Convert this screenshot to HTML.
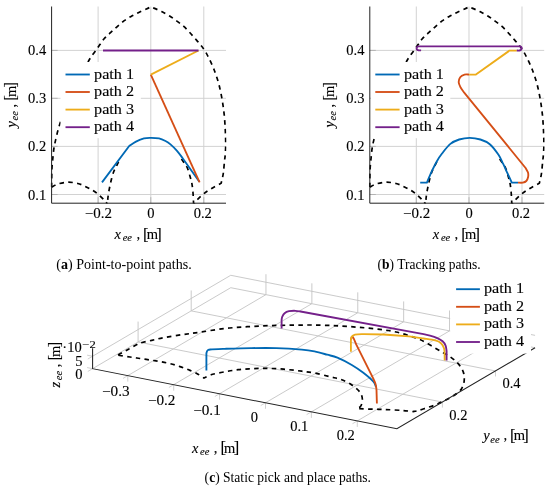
<!DOCTYPE html>
<html><head><meta charset="utf-8"><title>Workspace paths</title>
<style>
html,body{margin:0;padding:0;background:#fff;}
svg{display:block;}
text{font-family:'Liberation Serif', 'DejaVu Serif', serif;fill:#000;stroke:#000;stroke-width:0.12px;}
</style></head>
<body>
<svg width="550" height="489" viewBox="0 0 550 489">
<rect width="550" height="489" fill="#fff"/>
<path d="M98.1,6.5V203.2M150.8,6.5V203.2M203.8,6.5V203.2M51.6,194.5H226M51.6,146.4H226M51.6,98.3H226M51.6,50.4H226" stroke="#d0d0d0" stroke-width="0.95" fill="none"/>
<path d="M98.1,203.2v-6M150.8,203.2v-6M203.8,203.2v-6M51.6,194.5h6M51.6,146.4h6M51.6,98.3h6M51.6,50.4h6" stroke="#aaa" stroke-width="0.8" fill="none"/>
<clipPath id="clip0"><rect x="50.6" y="5.5" width="175.9" height="198"/></clipPath>
<g clip-path="url(#clip0)" stroke="#000" stroke-width="1.7" stroke-dasharray="4.5 4.3" fill="none">
<path d="M51.6,187.1 C51.6,186.57 51.55,186.9 51.6,183.9 C51.65,180.9 51.68,173.48 51.9,169.1 C52.12,164.72 52.55,161.15 52.9,157.6 C53.25,154.05 53.53,150.8 54,147.8 C54.47,144.8 55.02,142.6 55.7,139.6 C56.38,136.6 57.28,132.8 58.1,129.8 C58.92,126.8 60.18,122.97 60.6,121.6 C61.25,120.42 63.02,117.6 64.5,114.5 C65.98,111.4 67.8,106.92 69.5,103 C71.2,99.08 72.95,95.17 74.7,91 C76.45,86.83 78.37,81.67 80,78 C81.63,74.33 83.25,71.47 84.5,69 C85.75,66.53 86.55,65 87.5,63.2 C88.45,61.4 88.53,60.72 90.2,58.2 C91.87,55.68 95.22,51.3 97.5,48.1 C99.78,44.9 101.73,41.57 103.9,39 C106.07,36.43 108.32,34.73 110.5,32.7 C112.68,30.67 114.77,28.77 117,26.8 C119.23,24.83 121.55,22.63 123.9,20.9 C126.25,19.17 128.7,17.77 131.1,16.4 C133.5,15.03 135.75,13.95 138.3,12.7 C140.85,11.45 144.32,9.85 146.4,8.9 C148.48,7.95 150.07,7.32 150.8,7 C151.27,7.17 151.8,7.23 153.6,8 C155.4,8.77 158.93,10.27 161.6,11.6 C164.27,12.93 167.05,14.42 169.6,16 C172.15,17.58 174.58,19.4 176.9,21.1 C179.22,22.8 181.43,24.38 183.5,26.2 C185.57,28.02 187.37,29.95 189.3,32 C191.23,34.05 193.28,36.43 195.1,38.5 C196.92,40.57 198.63,42.45 200.2,44.4 C201.77,46.35 203.05,47.9 204.5,50.2 C205.95,52.5 207.3,54.95 208.9,58.2 C210.5,61.45 212.48,65.53 214.1,69.7 C215.72,73.87 217.28,78.33 218.6,83.2 C219.92,88.07 221.07,93.65 222,98.9 C222.93,104.15 223.65,109.45 224.2,114.7 C224.75,119.95 225.05,125.52 225.3,130.4 C225.55,135.28 225.7,140.07 225.7,144 C225.7,147.93 225.5,151.13 225.3,154 C225.1,156.87 224.82,158.12 224.5,161.2 C224.18,164.28 223.78,169.5 223.4,172.5 C223.02,175.5 222.58,177.42 222.2,179.2 C221.82,180.98 221.28,182.53 221.1,183.2 C219.6,184.03 214.92,186.52 212.1,188.2 C209.28,189.88 206.63,191.42 204.2,193.3 C201.77,195.18 199,198 197.5,199.5 C196,201 195.75,201.55 195.2,202.3 C194.65,203.05 194.37,203.72 194.2,204"/>
<path d="M51.6,187.1 C52.68,186.57 55.37,184.72 58.1,183.9 C60.83,183.08 64.72,182.27 68,182.2 C71.28,182.13 74.97,182.82 77.8,183.5 C80.63,184.18 82.47,185.13 85,186.3 C87.53,187.47 90.67,189.05 93,190.5 C95.33,191.95 97,193.25 99,195 C101,196.75 103.62,199.5 105,201 C106.38,202.5 106.92,203.5 107.3,204"/>
<path d="M118.6,162 C118.33,162.5 117.77,163.5 117,165 C116.23,166.5 114.92,168.67 114,171 C113.08,173.33 112.25,176.17 111.5,179 C110.75,181.83 110.08,185 109.5,188 C108.92,191 108.32,194.33 108,197 C107.68,199.67 107.67,202.83 107.6,204"/>
<path d="M181.5,159 C182,159.75 183.52,162 184.5,163.5 C185.48,165 186.45,165.75 187.4,168 C188.35,170.25 189.45,174.38 190.2,177 C190.95,179.62 191.43,181.08 191.9,183.7 C192.37,186.32 192.72,189.32 193,192.7 C193.28,196.08 193.5,202.12 193.6,204"/>
</g>
<path d="M102,182.4 L129,146.2 C130.17,145.43 133.5,142.9 136,141.6 C138.5,140.3 141.5,139.02 144,138.4 C146.5,137.78 148.5,137.9 151,137.9 C153.5,137.9 156.58,137.88 159,138.4 C161.42,138.92 163.58,140 165.5,141 C167.42,142 168.58,142.75 170.5,144.4 C172.42,146.05 174.92,148.52 177,150.9 C179.08,153.28 182,157.4 183,158.7 L199.2,181.5" stroke="#0069B5" stroke-width="1.85" fill="none" stroke-linejoin="round" stroke-linecap="butt"/>
<path d="M150.8,74.6 L199.6,182.3" stroke="#D54E16" stroke-width="1.85" fill="none" stroke-linejoin="round" stroke-linecap="butt"/>
<path d="M150.8,74.6 L198.5,50.5" stroke="#EDAC1A" stroke-width="1.85" fill="none" stroke-linejoin="round" stroke-linecap="butt"/>
<path d="M103,50.5 L198.5,50.5" stroke="#74208A" stroke-width="1.85" fill="none" stroke-linejoin="round" stroke-linecap="butt"/>
<rect x="60.5" y="62" width="80.3" height="76.2" fill="#fff"/>
<path d="M65.5,74.5h24.3" stroke="#0069B5" stroke-width="1.85"/>
<text x="94.1" y="78.5" font-size="14" text-anchor="start" textLength="40" lengthAdjust="spacingAndGlyphs">path 1</text>
<path d="M65.5,92h24.3" stroke="#D54E16" stroke-width="1.85"/>
<text x="94.1" y="96" font-size="14" text-anchor="start" textLength="40" lengthAdjust="spacingAndGlyphs">path 2</text>
<path d="M65.5,109.6h24.3" stroke="#EDAC1A" stroke-width="1.85"/>
<text x="94.1" y="113.6" font-size="14" text-anchor="start" textLength="40" lengthAdjust="spacingAndGlyphs">path 3</text>
<path d="M65.5,127.2h24.3" stroke="#74208A" stroke-width="1.85"/>
<text x="94.1" y="131.2" font-size="14" text-anchor="start" textLength="40" lengthAdjust="spacingAndGlyphs">path 4</text>
<path d="M51.6,6.5V203.2H226" stroke="#222" stroke-width="1.0" fill="none"/>
<text x="46.2" y="199.5" font-size="14.5" text-anchor="end">0.1</text>
<text x="46.2" y="151.4" font-size="14.5" text-anchor="end">0.2</text>
<text x="46.2" y="103.3" font-size="14.5" text-anchor="end">0.3</text>
<text x="46.2" y="55.4" font-size="14.5" text-anchor="end">0.4</text>
<text x="98.4" y="217.6" font-size="14.5" text-anchor="middle" textLength="27.2" lengthAdjust="spacingAndGlyphs">−0.2</text>
<text x="150.8" y="217.6" font-size="14.5" text-anchor="middle">0</text>
<text x="202.8" y="217.6" font-size="14.5" text-anchor="middle">0.2</text>
<g transform="translate(114.6,239.2)"><text x="0" y="0" font-size="14.5"><tspan font-style="italic">x</tspan><tspan x="8.1" dy="2.2" font-size="10.5" font-style="italic">ee </tspan><tspan x="21.8" dy="-2.2">, </tspan><tspan x="28.4" dy="0.5" font-size="16.5">[</tspan><tspan x="32.1" dy="-0.5">m</tspan><tspan x="41.7" dy="0.5" font-size="16.5">]</tspan></text></g>
<g transform="translate(15.9,127.6) rotate(-90)"><text x="0" y="0" font-size="14.5"><tspan font-style="italic">y</tspan><tspan x="7.14" dy="2.2" font-size="10.5" font-style="italic">ee </tspan><tspan x="20.2" dy="-2.2">, </tspan><tspan x="26.8" dy="0.5" font-size="16.5">[</tspan><tspan x="30.5" dy="-0.5">m</tspan><tspan x="40.1" dy="0.5" font-size="16.5">]</tspan></text></g>
<path d="M416.3,6.5V203.2M469,6.5V203.2M522,6.5V203.2M369.8,194.5H544.2M369.8,146.4H544.2M369.8,98.3H544.2M369.8,50.4H544.2" stroke="#d0d0d0" stroke-width="0.95" fill="none"/>
<path d="M416.3,203.2v-6M469,203.2v-6M522,203.2v-6M369.8,194.5h6M369.8,146.4h6M369.8,98.3h6M369.8,50.4h6" stroke="#aaa" stroke-width="0.8" fill="none"/>
<clipPath id="clip318"><rect x="368.8" y="5.5" width="175.9" height="198"/></clipPath>
<g clip-path="url(#clip318)" stroke="#000" stroke-width="1.7" stroke-dasharray="4.5 4.3" fill="none">
<path d="M369.8,187.1 C369.8,186.57 369.75,186.9 369.8,183.9 C369.85,180.9 369.88,173.48 370.1,169.1 C370.32,164.72 370.75,161.15 371.1,157.6 C371.45,154.05 371.73,150.8 372.2,147.8 C372.67,144.8 373.22,142.6 373.9,139.6 C374.58,136.6 375.48,132.8 376.3,129.8 C377.12,126.8 378.38,122.97 378.8,121.6 C379.45,120.42 381.22,117.6 382.7,114.5 C384.18,111.4 386,106.92 387.7,103 C389.4,99.08 391.15,95.17 392.9,91 C394.65,86.83 396.57,81.67 398.2,78 C399.83,74.33 401.45,71.47 402.7,69 C403.95,66.53 404.75,65 405.7,63.2 C406.65,61.4 406.73,60.72 408.4,58.2 C410.07,55.68 413.42,51.3 415.7,48.1 C417.98,44.9 419.93,41.57 422.1,39 C424.27,36.43 426.52,34.73 428.7,32.7 C430.88,30.67 432.97,28.77 435.2,26.8 C437.43,24.83 439.75,22.63 442.1,20.9 C444.45,19.17 446.9,17.77 449.3,16.4 C451.7,15.03 453.95,13.95 456.5,12.7 C459.05,11.45 462.52,9.85 464.6,8.9 C466.68,7.95 468.27,7.32 469,7 C469.47,7.17 470,7.23 471.8,8 C473.6,8.77 477.13,10.27 479.8,11.6 C482.47,12.93 485.25,14.42 487.8,16 C490.35,17.58 492.78,19.4 495.1,21.1 C497.42,22.8 499.63,24.38 501.7,26.2 C503.77,28.02 505.57,29.95 507.5,32 C509.43,34.05 511.48,36.43 513.3,38.5 C515.12,40.57 516.83,42.45 518.4,44.4 C519.97,46.35 521.25,47.9 522.7,50.2 C524.15,52.5 525.5,54.95 527.1,58.2 C528.7,61.45 530.68,65.53 532.3,69.7 C533.92,73.87 535.48,78.33 536.8,83.2 C538.12,88.07 539.27,93.65 540.2,98.9 C541.13,104.15 541.85,109.45 542.4,114.7 C542.95,119.95 543.25,125.52 543.5,130.4 C543.75,135.28 543.9,140.07 543.9,144 C543.9,147.93 543.7,151.13 543.5,154 C543.3,156.87 543.02,158.12 542.7,161.2 C542.38,164.28 541.98,169.5 541.6,172.5 C541.22,175.5 540.78,177.42 540.4,179.2 C540.02,180.98 539.48,182.53 539.3,183.2 C537.8,184.03 533.12,186.52 530.3,188.2 C527.48,189.88 524.83,191.42 522.4,193.3 C519.97,195.18 517.2,198 515.7,199.5 C514.2,201 513.95,201.55 513.4,202.3 C512.85,203.05 512.57,203.72 512.4,204"/>
<path d="M369.8,187.1 C370.88,186.57 373.57,184.72 376.3,183.9 C379.03,183.08 382.92,182.27 386.2,182.2 C389.48,182.13 393.17,182.82 396,183.5 C398.83,184.18 400.67,185.13 403.2,186.3 C405.73,187.47 408.87,189.05 411.2,190.5 C413.53,191.95 415.2,193.25 417.2,195 C419.2,196.75 421.82,199.5 423.2,201 C424.58,202.5 425.12,203.5 425.5,204"/>
<path d="M436.8,162 C436.53,162.5 435.97,163.5 435.2,165 C434.43,166.5 433.12,168.67 432.2,171 C431.28,173.33 430.45,176.17 429.7,179 C428.95,181.83 428.28,185 427.7,188 C427.12,191 426.52,194.33 426.2,197 C425.88,199.67 425.87,202.83 425.8,204"/>
<path d="M499.7,159 C500.2,159.75 501.72,162 502.7,163.5 C503.68,165 504.65,165.75 505.6,168 C506.55,170.25 507.65,174.38 508.4,177 C509.15,179.62 509.63,181.08 510.1,183.7 C510.57,186.32 510.92,189.32 511.2,192.7 C511.48,196.08 511.7,202.12 511.8,204"/>
</g>
<path d="M420.2,182.6 L426.9,182.6 C427.67,180.82 429.83,175.47 431.5,171.9 C433.17,168.33 435.12,164.3 436.9,161.2 C438.68,158.1 439.95,156.18 442.2,153.3 C444.45,150.42 447.58,146.2 450.4,143.9 C453.22,141.6 455.88,140.52 459.1,139.5 C462.32,138.48 466.15,137.8 469.7,137.8 C473.25,137.8 477.05,138.43 480.4,139.5 C483.75,140.57 486.78,141.65 489.8,144.2 C492.82,146.75 496.27,151.52 498.5,154.8 C500.73,158.08 501.73,160.88 503.2,163.9 C504.67,166.92 505.87,169.78 507.3,172.9 C508.73,176.02 511.05,180.98 511.8,182.6 L518,182.6" stroke="#0069B5" stroke-width="1.85" fill="none" stroke-linejoin="round" stroke-linecap="butt"/>
<path d="M518,182.6 C518.8,182.6 521.42,182.87 522.8,182.6 C524.18,182.33 525.42,181.93 526.3,181 C527.18,180.07 527.82,178.4 528.1,177 C528.38,175.6 528.42,174.1 528,172.6 C527.58,171.1 526,168.77 525.6,168 L463.6,91.8 C463.08,91.05 461.32,88.88 460.5,87.3 C459.68,85.72 458.75,83.98 458.7,82.3 C458.65,80.62 459.23,78.48 460.2,77.2 C461.17,75.92 463.02,75.03 464.5,74.6 C465.98,74.17 468.33,74.6 469.1,74.6" stroke="#D54E16" stroke-width="1.85" fill="none" stroke-linejoin="round" stroke-linecap="butt"/>
<path d="M469.1,74.6 L475.9,74.6 L509.5,50.6 L516.8,50.6" stroke="#EDAC1A" stroke-width="1.85" fill="none" stroke-linejoin="round" stroke-linecap="butt"/>
<path d="M516.8,50.5 C517.25,50.5 518.75,50.68 519.5,50.5 C520.25,50.32 520.95,49.88 521.3,49.4 C521.65,48.92 521.78,48.1 521.6,47.6 C521.42,47.1 520.67,46.62 520.2,46.4 C519.73,46.18 519.03,46.32 518.8,46.3 L418.6,46.3 C418.33,46.45 417.3,46.72 417,47.2 C416.7,47.68 416.53,48.68 416.8,49.2 C417.07,49.72 417.88,50.12 418.6,50.3 C419.32,50.48 420.68,50.3 421.1,50.3" stroke="#74208A" stroke-width="1.85" fill="none" stroke-linejoin="round" stroke-linecap="butt"/>
<rect x="370.6" y="62" width="79.7" height="76.2" fill="#fff"/>
<path d="M375.3,74.5h24.3" stroke="#0069B5" stroke-width="1.85"/>
<text x="403.9" y="78.5" font-size="14" text-anchor="start" textLength="40" lengthAdjust="spacingAndGlyphs">path 1</text>
<path d="M375.3,92h24.3" stroke="#D54E16" stroke-width="1.85"/>
<text x="403.9" y="96" font-size="14" text-anchor="start" textLength="40" lengthAdjust="spacingAndGlyphs">path 2</text>
<path d="M375.3,109.6h24.3" stroke="#EDAC1A" stroke-width="1.85"/>
<text x="403.9" y="113.6" font-size="14" text-anchor="start" textLength="40" lengthAdjust="spacingAndGlyphs">path 3</text>
<path d="M375.3,127.2h24.3" stroke="#74208A" stroke-width="1.85"/>
<text x="403.9" y="131.2" font-size="14" text-anchor="start" textLength="40" lengthAdjust="spacingAndGlyphs">path 4</text>
<path d="M369.8,6.5V203.2H544.2" stroke="#222" stroke-width="1.0" fill="none"/>
<text x="364.4" y="199.5" font-size="14.5" text-anchor="end">0.1</text>
<text x="364.4" y="151.4" font-size="14.5" text-anchor="end">0.2</text>
<text x="364.4" y="103.3" font-size="14.5" text-anchor="end">0.3</text>
<text x="364.4" y="55.4" font-size="14.5" text-anchor="end">0.4</text>
<text x="416.6" y="217.6" font-size="14.5" text-anchor="middle" textLength="27.2" lengthAdjust="spacingAndGlyphs">−0.2</text>
<text x="469" y="217.6" font-size="14.5" text-anchor="middle">0</text>
<text x="521" y="217.6" font-size="14.5" text-anchor="middle">0.2</text>
<g transform="translate(432.8,239.2)"><text x="0" y="0" font-size="14.5"><tspan font-style="italic">x</tspan><tspan x="8.1" dy="2.2" font-size="10.5" font-style="italic">ee </tspan><tspan x="21.8" dy="-2.2">, </tspan><tspan x="28.4" dy="0.5" font-size="16.5">[</tspan><tspan x="32.1" dy="-0.5">m</tspan><tspan x="41.7" dy="0.5" font-size="16.5">]</tspan></text></g>
<g transform="translate(334.1,127.6) rotate(-90)"><text x="0" y="0" font-size="14.5"><tspan font-style="italic">y</tspan><tspan x="7.14" dy="2.2" font-size="10.5" font-style="italic">ee </tspan><tspan x="20.2" dy="-2.2">, </tspan><tspan x="26.8" dy="0.5" font-size="16.5">[</tspan><tspan x="30.5" dy="-0.5">m</tspan><tspan x="40.1" dy="0.5" font-size="16.5">]</tspan></text></g>
<text x="56.3" y="269.0" font-size="14.6" style="stroke-width:0" textLength="135.5" lengthAdjust="spacingAndGlyphs">(<tspan font-weight="bold">a</tspan>) Point-to-point paths.</text>
<text x="377.6" y="269.0" font-size="14.6" style="stroke-width:0" textLength="103" lengthAdjust="spacingAndGlyphs">(<tspan font-weight="bold">b</tspan>) Tracking paths.</text>
<text x="204.6" y="482.2" font-size="14.6" style="stroke-width:0" textLength="166.4" lengthAdjust="spacingAndGlyphs">(<tspan font-weight="bold">c</tspan>) Static pick and place paths.</text>
<path d="M127.79,375.61L265.96,294.64M265.96,294.64L265.96,274.23M173.69,384.67L311.86,303.7M311.86,303.7L311.86,283.29M219.59,393.73L357.76,312.76M357.76,312.76L357.76,292.35M265.49,402.79L403.66,321.82M403.66,321.82L403.66,301.41M311.39,411.85L449.56,330.88M449.56,330.88L449.56,310.47M357.29,420.91L495.46,339.94M495.46,339.94L495.46,319.53M138.09,341.99L442.41,402.06M138.09,341.99L138.09,321.58M191.19,310.87L495.51,370.94M191.19,310.87L191.19,290.46M230.75,287.69L535.07,347.75M92.59,368.66L230.75,287.69M230.75,275.29L535.07,335.35M92.59,356.26L230.75,275.29" stroke="#c4c4c4" stroke-width="0.9" fill="none"/>
<path d="M127.79,375.61L127.79,381.61M127.79,375.61L123.01,378.41M173.69,384.67L173.69,390.67M173.69,384.67L168.91,387.47M219.59,393.73L219.59,399.73M219.59,393.73L214.81,396.53M265.49,402.79L265.49,408.79M265.49,402.79L260.71,405.59M311.39,411.85L311.39,417.85M311.39,411.85L306.61,414.65M357.29,420.91L357.29,426.91M357.29,420.91L352.51,423.71M442.41,402.06L442.41,407.56M495.51,370.94L495.51,376.44M92.59,368.66L87.81,371.46M92.59,368.66L87.08,367.57M92.59,356.26L87.81,359.06M92.59,356.26L87.08,355.17" stroke="#bdbdbd" stroke-width="0.7" fill="none"/>
<g stroke="#000" stroke-width="1.7" stroke-dasharray="4.5 4.3" fill="none">
<path d="M118,355 C119.75,354.03 124.92,351.18 128.5,349.2 C132.08,347.22 137.67,344.12 139.5,343.1 C141.55,342.63 147.63,341.23 151.8,340.3 C155.97,339.37 159.35,338.45 164.5,337.5 C169.65,336.55 176.78,335.48 182.7,334.6 C188.62,333.72 193.18,333.2 200,332.2 C206.82,331.2 215.72,329.52 223.6,328.6 C231.48,327.68 239.42,327.2 247.3,326.7 C255.18,326.2 263.03,325.87 270.9,325.6 C278.77,325.33 286.62,325.18 294.5,325.1 C302.38,325.02 310.62,324.95 318.2,325.1 C325.78,325.25 333.03,325.62 340,326 C346.97,326.38 353.33,326.83 360,327.4 C366.67,327.97 374,328.63 380,329.4 C386,330.17 391,330.9 396,332 C401,333.1 406,334.73 410,336 C414,337.27 416.5,338 420,339.6 C423.5,341.2 427.32,343.52 431,345.6 C434.68,347.68 438.72,350.1 442.1,352.1 C445.48,354.1 448.7,355.77 451.3,357.6 C453.9,359.43 455.87,361.1 457.7,363.1 C459.53,365.1 461.22,367.45 462.3,369.6 C463.38,371.75 463.95,373.7 464.2,376 C464.45,378.3 464.27,381.25 463.8,383.4 C463.33,385.55 462.57,387.22 461.4,388.9 C460.23,390.58 458.8,391.97 456.8,393.5 C454.8,395.03 451.85,396.72 449.4,398.1 C446.95,399.48 444.55,400.63 442.1,401.8 C439.65,402.97 437.47,404.03 434.7,405.1 C431.93,406.17 428.28,407.28 425.5,408.2 C422.72,409.12 420.08,410.03 418,410.6 C415.92,411.17 413.83,411.43 413,411.6 C411.28,411.42 407.45,410.85 402.7,410.5 C397.95,410.15 390.55,409.75 384.5,409.5 C378.45,409.25 370.93,409.15 366.4,409 C361.87,408.85 358.82,408.67 357.3,408.6 C357.9,408.15 360.05,407.42 360.9,405.9 C361.75,404.38 362.55,401.77 362.4,399.5 C362.25,397.23 361.77,394.72 360,392.3 C358.23,389.88 354.98,387.13 351.8,385 C348.62,382.87 344.53,380.87 340.9,379.5 C337.27,378.13 334.4,377.88 330,376.8 C325.6,375.72 319.2,373.93 314.5,373 C309.8,372.07 306.03,371.75 301.8,371.2 C297.57,370.65 293.35,370.12 289.1,369.7 C284.85,369.28 280.55,368.92 276.3,368.7 C272.05,368.48 267.83,368.4 263.6,368.4 C259.37,368.4 255.13,368.48 250.9,368.7 C246.67,368.92 242.45,369.2 238.2,369.7 C233.95,370.2 229.65,370.93 225.4,371.7 C221.15,372.47 216.27,373.25 212.7,374.3 C209.13,375.35 205.45,377.38 204,378 C203,377.37 200.33,375.47 198,374.2 C195.67,372.93 193,371.67 190,370.4 C187,369.13 183.33,367.73 180,366.6 C176.67,365.47 173.33,364.43 170,363.6 C166.67,362.77 163.33,362.2 160,361.6 C156.67,361 153.33,360.52 150,360 C146.67,359.48 143.33,359 140,358.5 C136.67,358 133.67,357.58 130,357 C126.33,356.42 120,355.33 118,355"/>
</g>
<path d="M206.4,370.4 L206.4,353.2 C206.57,352.78 206.77,351.32 207.4,350.7 C208.03,350.08 207.2,349.82 210.2,349.5 C213.2,349.18 218.62,349.03 225.4,348.8 C232.18,348.57 242.42,348.22 250.9,348.1 C259.38,347.98 267.82,347.85 276.3,348.1 C284.78,348.35 295.43,349.05 301.8,349.6 C308.17,350.15 310.27,350.55 314.5,351.4 C318.73,352.25 323.38,353.65 327.2,354.7 C331.02,355.75 333.3,355.98 337.4,357.7 C341.5,359.42 347.53,362.52 351.8,365 C356.07,367.48 359.43,369.85 363,372.6 C366.57,375.35 371.03,379.1 373.2,381.5 C375.37,383.9 375.53,386.08 376,387" stroke="#0069B5" stroke-width="1.85" fill="none" stroke-linejoin="round"/>
<path d="M376.9,403.5 L376.5,390 C376.35,389.03 376.23,386.3 375.6,384.2 C374.97,382.1 373.18,378.53 372.7,377.4 L356.3,344.7 C355.95,343.85 354.82,340.9 354.2,339.6 C353.58,338.3 353.07,337.2 352.6,336.9 C352.13,336.6 351.65,337.28 351.4,337.8 C351.15,338.32 351.15,339.63 351.1,340" stroke="#D54E16" stroke-width="1.85" fill="none" stroke-linejoin="round"/>
<path d="M350.9,351.8 L350.9,340.5 C351.05,339.85 351.12,337.58 351.8,336.6 C352.48,335.62 353.33,335.02 355,334.6 C356.67,334.18 357.03,334.12 361.8,334.1 C366.57,334.08 376.32,334.15 383.6,334.5 C390.88,334.85 398.83,335.53 405.5,336.2 C412.17,336.87 418.63,337.8 423.6,338.5 C428.57,339.2 432.4,339.62 435.3,340.4 C438.2,341.18 439.55,341.9 441,343.2 C442.45,344.5 443.4,346.57 444,348.2 C444.6,349.83 444.5,352.2 444.6,353 L444.7,360.6" stroke="#EDAC1A" stroke-width="1.85" fill="none" stroke-linejoin="round"/>
<path d="M446.6,360.6 L446.6,351 C446.43,350.1 446.27,347.22 445.6,345.6 C444.93,343.98 443.98,342.55 442.6,341.3 C441.22,340.05 439.4,339.05 437.3,338.1 C435.2,337.15 432.28,336.25 430,335.6 C427.72,334.95 424.67,334.43 423.6,334.2 L300.5,311.5 C299.65,311.38 297.32,310.85 295.4,310.8 C293.48,310.75 290.8,310.8 289,311.2 C287.2,311.6 285.73,312.27 284.6,313.2 C283.47,314.13 282.7,315.67 282.2,316.8 C281.7,317.93 281.7,319.47 281.6,320 L281.6,328.4" stroke="#74208A" stroke-width="1.85" fill="none" stroke-linejoin="round"/>
<path d="M92.59,348.25L92.59,368.66L396.9,428.73L535.07,347.75" stroke="#222" stroke-width="1.05" fill="none"/>
<rect x="450.2" y="277" width="80.8" height="76.6" fill="#fff"/>
<path d="M456.1,289.2h23.8" stroke="#0069B5" stroke-width="1.85"/>
<text x="484" y="293.2" font-size="14" text-anchor="start" textLength="40" lengthAdjust="spacingAndGlyphs">path 1</text>
<path d="M456.1,306.8h23.8" stroke="#D54E16" stroke-width="1.85"/>
<text x="484" y="310.8" font-size="14" text-anchor="start" textLength="40" lengthAdjust="spacingAndGlyphs">path 2</text>
<path d="M456.1,324.4h23.8" stroke="#EDAC1A" stroke-width="1.85"/>
<text x="484" y="328.4" font-size="14" text-anchor="start" textLength="40" lengthAdjust="spacingAndGlyphs">path 3</text>
<path d="M456.1,342h23.8" stroke="#74208A" stroke-width="1.85"/>
<text x="484" y="346" font-size="14" text-anchor="start" textLength="40" lengthAdjust="spacingAndGlyphs">path 4</text>
<text x="115.8" y="396.3" font-size="14.5" text-anchor="middle" textLength="27.6" lengthAdjust="spacingAndGlyphs">−0.3</text>
<text x="161.7" y="404.9" font-size="14.5" text-anchor="middle" textLength="27.6" lengthAdjust="spacingAndGlyphs">−0.2</text>
<text x="207" y="415.2" font-size="14.5" text-anchor="middle" textLength="27.6" lengthAdjust="spacingAndGlyphs">−0.1</text>
<text x="254.4" y="421.5" font-size="14.5" text-anchor="middle">0</text>
<text x="299.3" y="430.6" font-size="14.5" text-anchor="middle">0.1</text>
<text x="345.7" y="439.9" font-size="14.5" text-anchor="middle">0.2</text>
<text x="458.4" y="419.5" font-size="14.5" text-anchor="middle">0.2</text>
<text x="511.5" y="388.4" font-size="14.5" text-anchor="middle">0.4</text>
<text x="82.6" y="365.6" font-size="14.5" text-anchor="end">5</text>
<text x="82.6" y="379.4" font-size="14.5" text-anchor="end">0</text>
<text x="62.3" y="352.4" font-size="14.5">·10<tspan x="82.4" dy="-4.2" font-size="10.5" textLength="13.4" lengthAdjust="spacingAndGlyphs">−2</tspan></text>
<g transform="translate(192,452.7)"><text x="0" y="0" font-size="14.5"><tspan font-style="italic">x</tspan><tspan x="8.1" dy="2.2" font-size="10.5" font-style="italic">ee </tspan><tspan x="21.8" dy="-2.2">, </tspan><tspan x="28.4" dy="0.5" font-size="16.5">[</tspan><tspan x="32.1" dy="-0.5">m</tspan><tspan x="41.7" dy="0.5" font-size="16.5">]</tspan></text></g>
<g transform="translate(483.2,440.3)"><text x="0" y="0" font-size="14.5"><tspan font-style="italic">y</tspan><tspan x="7.14" dy="2.2" font-size="10.5" font-style="italic">ee </tspan><tspan x="20.2" dy="-2.2">, </tspan><tspan x="26.8" dy="0.5" font-size="16.5">[</tspan><tspan x="30.5" dy="-0.5">m</tspan><tspan x="40.1" dy="0.5" font-size="16.5">]</tspan></text></g>
<g transform="translate(59.7,387.4) rotate(-90)"><text x="0" y="0" font-size="14.5"><tspan font-style="italic">z</tspan><tspan x="7.14" dy="2.2" font-size="10.5" font-style="italic">ee </tspan><tspan x="20.2" dy="-2.2">, </tspan><tspan x="26.8" dy="0.5" font-size="16.5">[</tspan><tspan x="30.5" dy="-0.5">m</tspan><tspan x="40.1" dy="0.5" font-size="16.5">]</tspan></text></g>
</svg>
</body></html>
